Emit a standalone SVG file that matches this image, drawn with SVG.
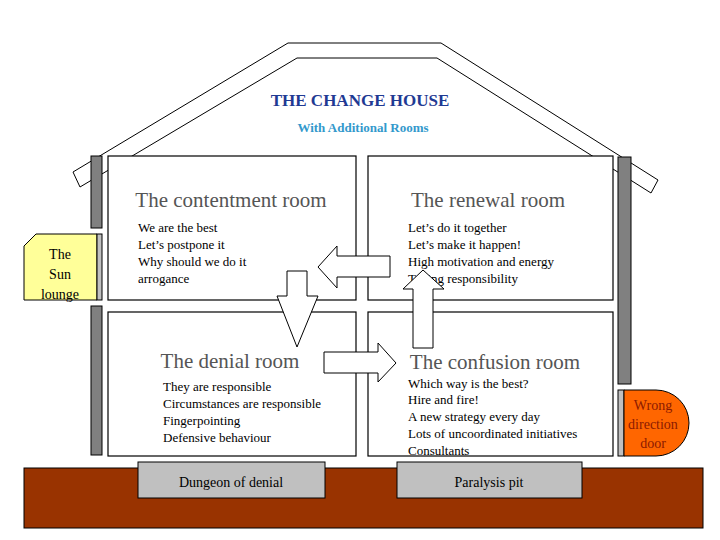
<svg xmlns="http://www.w3.org/2000/svg" width="720" height="540" viewBox="0 0 720 540">
<style>
.room{fill:#fff;stroke:#000;stroke-width:1.2}
.wall{fill:#808080;stroke:#000;stroke-width:1}
.arr{fill:#fff;stroke:#000;stroke-width:1}
.ttl{font-family:"Liberation Serif",serif;font-size:21px;fill:#555;text-anchor:middle}
.body{font-family:"Liberation Serif",serif;font-size:13px;fill:#000}
.lbl{font-family:"Liberation Serif",serif;font-size:14px;text-anchor:middle}
</style>
<rect width="720" height="540" fill="#fff"/>
<g id="roof"><polygon points="73,172 288,43 441,43 658,180 651,193 437,58 297,58 80,187" fill="#fff" stroke="#000" stroke-width="1"/></g>
<g id="title">
<text x="360" y="106" text-anchor="middle" font-family="Liberation Serif,serif" font-size="17" font-weight="bold" fill="#1f3a93">THE CHANGE HOUSE</text>
<text x="363" y="132" text-anchor="middle" font-family="Liberation Serif,serif" font-size="13" font-weight="bold" fill="#3399cc">With Additional Rooms</text>
</g>
<g id="walls">
<rect class="wall" x="91" y="156" width="11" height="72"/>
<rect class="wall" x="91" y="306" width="11" height="149"/>
<rect class="wall" x="618" y="157" width="13" height="227"/>
</g>
<g id="sun-lounge">
<polygon points="36,234 97,234 97,300 24,300 24,246" fill="#ffff99" stroke="#000"/>
<rect x="97" y="234" width="5" height="66" fill="#c0c0c0" stroke="#000"/>
<text class="lbl" x="60" y="259">The</text><text class="lbl" x="60" y="279">Sun</text><text class="lbl" x="60" y="299">lounge</text>
</g>
<g id="door">
<rect x="618" y="390" width="6" height="66" fill="#c0c0c0" stroke="#000"/>
<path d="M624,390 H656 A33,33 0 0 1 656,456 H624 Z" fill="#ff6600" stroke="#000"/>
<text class="lbl" x="653" y="410" fill="#8b1a00">Wrong</text><text class="lbl" x="653" y="429" fill="#8b1a00">direction</text><text class="lbl" x="653" y="448" fill="#8b1a00">door</text>
</g>
<g id="ground"><rect x="24" y="468" width="679" height="60" fill="#993300" stroke="#000"/></g>
<g id="contentment">
<rect class="room" x="108" y="156" width="248" height="144"/>
<text class="ttl" x="231" y="207">The contentment room</text>
<text class="body" x="138" y="232">We are the best</text><text class="body" x="138" y="249">Let’s postpone it</text><text class="body" x="138" y="266">Why should we do it</text><text class="body" x="138" y="283">arrogance</text>
</g>
<g id="renewal">
<rect class="room" x="368" y="156" width="245" height="144"/>
<text class="ttl" x="488" y="207">The renewal room</text>
<text class="body" x="408" y="232">Let’s do it together</text><text class="body" x="408" y="249">Let’s make it happen!</text><text class="body" x="408" y="266">High motivation and energy</text><text class="body" x="408" y="283">Taking responsibility</text>
</g>
<g id="denial">
<rect class="room" x="108" y="312" width="248" height="144"/>
<text class="ttl" x="230" y="368">The denial room</text>
<text class="body" x="163" y="391">They are responsible</text><text class="body" x="163" y="408">Circumstances are responsible</text><text class="body" x="163" y="425">Fingerpointing</text><text class="body" x="163" y="442">Defensive behaviour</text>
</g>
<g id="confusion">
<rect class="room" x="368" y="312" width="245" height="144"/>
<text class="ttl" x="495" y="369">The confusion room</text>
<text class="body" x="408" y="388">Which way is the best?</text><text class="body" x="408" y="404">Hire and fire!</text><text class="body" x="408" y="421">A new strategy every day</text><text class="body" x="408" y="438">Lots of uncoordinated initiatives</text><text class="body" x="408" y="455">Consultants</text>
</g>
<g id="dungeon"><rect x="138" y="462" width="187" height="36" fill="#c0c0c0" stroke="#000"/><text class="lbl" x="231" y="487">Dungeon of denial</text></g>
<g id="paralysis"><rect x="397" y="462" width="185" height="36" fill="#c0c0c0" stroke="#000"/><text class="lbl" x="489" y="487">Paralysis pit</text></g>
<g id="connectors">
<polygon class="arr" points="390,256 337,256 337,246 318,267 337,288 337,277 390,277"/>
<polygon class="arr" points="287,271 307,271 307,296 318,296 297,347 277,296 287,296"/>
<polygon class="arr" points="324,352 378,352 378,343 396,363 378,382 378,373 324,373"/>
<polygon class="arr" points="413,348 413,289 403,289 423,270 444,289 433,289 433,348"/>
</g>
</svg>
